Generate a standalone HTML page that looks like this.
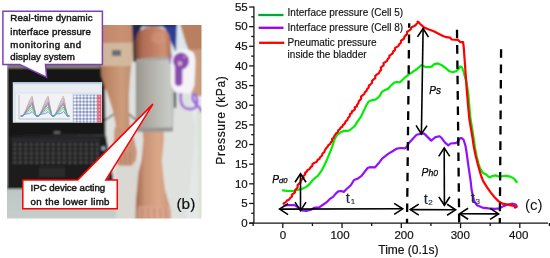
<!DOCTYPE html>
<html><head><meta charset="utf-8">
<style>
html,body{margin:0;padding:0;background:#fff;width:550px;height:258px;overflow:hidden}
svg{display:block}
.sans{font-family:"Liberation Sans",Arial,sans-serif}
</style></head><body>
<svg width="550" height="258" viewBox="0 0 550 258">
<defs>
<filter id="bl" x="-10%" y="-10%" width="120%" height="120%"><feGaussianBlur stdDeviation="0.9"/></filter>
<filter id="bl2" x="-10%" y="-10%" width="120%" height="120%"><feGaussianBlur stdDeviation="0.6"/></filter>
<clipPath id="photo"><rect x="7" y="25" width="194.5" height="193.5"/></clipPath>
<linearGradient id="floor" x1="0" y1="0" x2="0" y2="1"><stop offset="0" stop-color="#bcc6c3"/><stop offset="1" stop-color="#c8d0cd"/></linearGradient>
<linearGradient id="wall" x1="0" y1="0" x2="1" y2="0"><stop offset="0" stop-color="#dcdcd6"/><stop offset="1" stop-color="#e6ecee"/></linearGradient>
<linearGradient id="cuff" x1="0" y1="0" x2="1" y2="0"><stop offset="0" stop-color="#9a968e"/><stop offset="0.3" stop-color="#adaaa2"/><stop offset="0.65" stop-color="#bebeb9"/><stop offset="0.9" stop-color="#c9cbc7"/><stop offset="1" stop-color="#b2b4b0"/></linearGradient>
<linearGradient id="legL" x1="0" y1="0" x2="1" y2="0"><stop offset="0" stop-color="#a87452"/><stop offset="0.25" stop-color="#bf8866"/><stop offset="0.6" stop-color="#cc9c7c"/><stop offset="1" stop-color="#b8886a"/></linearGradient>
<linearGradient id="knee" x1="0" y1="0" x2="1" y2="0"><stop offset="0" stop-color="#7a4636"/><stop offset="0.18" stop-color="#b06c54"/><stop offset="0.5" stop-color="#c27e62"/><stop offset="0.8" stop-color="#cf9276"/><stop offset="1" stop-color="#a86c52"/></linearGradient>
<linearGradient id="skinR" x1="0" y1="0" x2="1" y2="0"><stop offset="0" stop-color="#a06448"/><stop offset="0.25" stop-color="#c89274"/><stop offset="0.65" stop-color="#dba888"/><stop offset="1" stop-color="#c8947a"/></linearGradient>
<pattern id="keys" x="12" y="142.3" width="5.5" height="4.5" patternUnits="userSpaceOnUse"><rect width="5.5" height="4.5" fill="#1e1e1e"/><rect x="0.6" y="0.5" width="4.3" height="3.5" fill="#2e2e2e"/><rect x="2" y="1.5" width="1.5" height="1.2" fill="#777"/></pattern>
<pattern id="grid" x="73.3" y="94.7" width="3.45" height="3.45" patternUnits="userSpaceOnUse"><rect width="3.45" height="3.45" fill="#7585b8"/><circle cx="1.72" cy="1.72" r="1.5" fill="#f8f8fb"/></pattern><pattern id="gridr" x="73.3" y="94.7" width="4" height="3.45" patternUnits="userSpaceOnUse"><rect width="4" height="3.45" fill="#e05060"/><circle cx="2" cy="1.72" r="1.2" fill="#f4a0b0"/></pattern>
</defs>

<!-- PHOTO -->
<g clip-path="url(#photo)">
 <g filter="url(#bl)">
  <rect x="0" y="20" width="210" height="205" fill="#dfe1df"/>
  <!-- right wall/back area -->
  <path d="M168,20 L210,20 L210,225 L186,225 L192,170 L196,130 L190,100 Z" fill="#e4e8e8"/>
  <path d="M197,110 L210,110 L210,225 L199,225 Z" fill="#dce2d4"/>
  <!-- floor under laptop -->
  <rect x="0" y="186" width="116" height="40" fill="url(#floor)"/>
  <rect x="116" y="160" width="22" height="66" fill="#d9d8d2"/>
  <!-- wall wedge top right -->
  <path d="M170,20 L182,20 L190,52 L172,56 Z" fill="#dce8ec"/>
  <!-- cables -->
  <path d="M104,121 L114,114 M129,114 L137,121" stroke="#333" stroke-width="1.2" fill="none"/>
  <!-- left leg -->
  <path d="M100,20 L135,20 L134.5,30 L133,50 L131.3,65 L129.8,80 L129,95 L129,110 L129.8,125 L131.5,133 L134.5,142 L136,152 L135,160 L131,165.5 L119,165.5 L115,161 L113.5,148 L114.5,133 L115.8,125 L112.7,110 L108,95 L101.9,80 L100.3,65 Z" fill="url(#legL)"/>
  <path d="M100,25 L135,25 L134,43 L100,44 Z" fill="#c88c70" opacity="0.7"/>
  <path d="M100,43 L134,42.5 L133,55 L131.5,66 L101,66 L100.2,55 Z" fill="#d4bea4" opacity="0.85"/>
  <rect x="112" y="50" width="9" height="6" fill="#6c6c74"/>
  <path d="M114.5,128 L131,128 L134.5,141 L137,152 L136,160 L132,165.5 L119,165.5 L115,161 L113.5,148 Z" fill="#c8957a"/>
  <path d="M120,152 L121,164 M125,153 L125.5,165 M130,152 L130,164" stroke="#a87058" stroke-width="0.9" fill="none"/>
  <!-- gap shadow -->
  <path d="M132.5,24 L137.5,24 L137,62 L133,62 Z" fill="#4a3a34"/>
  <!-- shorts -->
  <path d="M132,20 L148,20 L141,28 L136,40 L133,40 Z" fill="#1e2850"/>
  <path d="M157,20 L177,20 L176,52 L171,42 L166,30 Z" fill="#2c3c98"/>
  <rect x="132" y="20" width="45" height="6.5" fill="#232d5a"/>
  <!-- right knee -->
  <path d="M135.8,62 L135.8,40 C136,31 142,27 153,27 C164,27 169.5,31 170.4,40 L171.5,60 Z" fill="url(#knee)"/>
  <ellipse cx="158" cy="38" rx="7" ry="6" fill="#d49a80" opacity="0.45"/>
  <!-- arm -->
  <path d="M179,20 L210,20 L210,95 L198,95 L195,86 L196,62 L191,55 L186,44 Z" fill="#b88060"/>
  <path d="M190,50 L210,48 L210,96 L196,96 Z" fill="#c99a7c"/>
  <!-- lower right leg -->
  <path d="M142.4,128 L163.8,128 L163.8,140 L163,150 L161.8,160 L162.8,172 L165,190 L168,200 L170.7,210 L171,222 L135.5,222 L135.8,210 L136,200 L137,190 L138.5,172 L141.5,160 L142.5,150 L143.4,140 Z" fill="url(#skinR)"/>
  <path d="M138,206 L170,206 L171,219 L136,219 Z" fill="#dcaa92" opacity="0.6"/>
  <path d="M142,208 L142.5,218 M148,208 L148.5,218 M154,208 L154.5,218 M160,208 L160.5,218 M165.5,207 L166,217" stroke="#b07860" stroke-width="0.8" fill="none"/>
  <!-- cuff -->
  <path d="M136.5,59.5 Q154,56.5 173.5,57.5 L174,95 L173,131 L137,131.5 L136,95 Z" fill="url(#cuff)"/>
  <path d="M136.5,59.5 Q154,56.5 173.5,57.5 L173.5,60 Q154,59 136.5,62 Z" fill="#a4a4a2"/>
  <path d="M137,128 L173,127.5 L173,131.5 L137,132 Z" fill="#959593"/>
  <rect x="135.8" y="62" width="1.4" height="66" fill="#8a8a88"/>
  <!-- dark shadow by tube -->
  <rect x="174" y="92" width="2.2" height="16" fill="#4a4a4a"/>
  <!-- device -->
  <path d="M169.5,56 L174,54 L174,64 L169.5,63 Z" fill="#8a50b0"/>
  <rect x="171" y="49.5" width="25.5" height="44" rx="11" fill="#f5f3f8"/>
  <ellipse cx="181" cy="61" rx="8" ry="8.6" fill="#8a4cb0"/>
  <rect x="174.8" y="61" width="7.6" height="25" rx="3.7" fill="#8a4cb0"/>
  <circle cx="180" cy="63.5" r="2.2" fill="#dcb0c4"/>
  <circle cx="184.5" cy="57" r="1.3" fill="#c090d0"/>
  <!-- hand fingers -->
  <path d="M193.5,51 Q200,53 200,66 L199.5,86 Q198,94 191,94 L194.5,85 L195.5,60 Z" fill="#cc9c7e"/>
  <!-- tube -->
  <path d="M181,93 Q179,108 189,109 Q198,110 197,100 Q196,92 193,95 Q191,99 196,104 Q201,109 202,112" stroke="#9c62da" stroke-width="2.6" fill="none"/>
  <!-- laptop lid -->
  <path d="M7,63 L100.5,63.5 L101.5,76 L105,88 L105.5,135.5 L7,136 Z" fill="#141414"/>
  <rect x="7" y="64.4" width="93" height="3.6" fill="#8a897e"/>
  <!-- laptop base -->
  <path d="M7,135.5 L106,135.5 L113,178 L114,189 L7,189 Z" fill="#1c1c1c"/>
  <rect x="12" y="137.5" width="88" height="4.5" fill="#2c2c2e"/>
  <rect x="12" y="142.3" width="88" height="22.4" fill="url(#keys)"/>
  <rect x="38.5" y="167.5" width="26.5" height="9.8" fill="#2a2a2a"/>
  <rect x="101.5" y="146.5" width="4" height="3.5" fill="#8ab0c0"/>
  <rect x="104.5" y="174.5" width="4" height="3.5" fill="#7aa8b0"/>
  <rect x="54" y="131.5" width="6" height="2" fill="#777"/>
 </g>
 <!-- screen -->
 <g filter="url(#bl2)">
  <rect x="12.8" y="82.1" width="89.3" height="40.6" fill="#dfe6ee"/>
  <rect x="12.8" y="82.1" width="89.3" height="1.4" fill="#a8c0dc"/>
  <rect x="15" y="85" width="85" height="7" fill="#e9edf1"/>
  <rect x="16" y="93.5" width="56" height="28" fill="#f0f2f5"/>
  <path d="M19,95 L19,119 L70,119" stroke="#9aa0a8" stroke-width="0.6" fill="none"/>
  <g fill="none" stroke-width="0.85">
   <path d="M20.8,116 L22.8,116 C25.8,112 28.8,100 32.1,96 L36.0,116 L37.8,116 M36.8,116 L38.8,116 C41.8,112 44.8,100 48.099999999999994,96 L52.0,116 L53.8,116 M52.2,116 L54.2,116 C57.2,112 60.2,100 63.5,96 L67.4,116 L69.2,116" stroke="#b8b8c8"/>
   <path d="M20.8,116 L22.8,116 C25.8,112 28.8,102 32.1,98 L36.0,116 L37.8,116 M36.8,116 L38.8,116 C41.8,112 44.8,102 48.099999999999994,98 L52.0,116 L53.8,116 M52.2,116 L54.2,116 C57.2,112 60.2,102 63.5,98 L67.4,116 L69.2,116" stroke="#f090a8"/>
   <path d="M20.8,116 L22.8,116 C25.8,112 28.8,104 32.1,100 L36.0,116 L37.8,116 M36.8,116 L38.8,116 C41.8,112 44.8,104 48.099999999999994,100 L52.0,116 L53.8,116 M52.2,116 L54.2,116 C57.2,112 60.2,104 63.5,100 L67.4,116 L69.2,116" stroke="#f0b070"/>
   <path d="M20.8,116 L22.8,116 C25.8,112 28.8,105.5 32.1,101.5 L36.0,116 L37.8,116 M36.8,116 L38.8,116 C41.8,112 44.8,105.5 48.099999999999994,101.5 L52.0,116 L53.8,116 M52.2,116 L54.2,116 C57.2,112 60.2,105.5 63.5,101.5 L67.4,116 L69.2,116" stroke="#50c8e0"/>
   <path d="M20.8,116 L22.8,116 C25.8,112 28.8,107 32.1,103 L36.0,116 L37.8,116 M36.8,116 L38.8,116 C41.8,112 44.8,107 48.099999999999994,103 L52.0,116 L53.8,116 M52.2,116 L54.2,116 C57.2,112 60.2,107 63.5,103 L67.4,116 L69.2,116" stroke="#6090e8"/>
   <path d="M20.8,116 L22.8,116 C25.8,112 28.8,108.5 32.1,104.5 L36.0,116 L37.8,116 M36.8,116 L38.8,116 C41.8,112 44.8,108.5 48.099999999999994,104.5 L52.0,116 L53.8,116 M52.2,116 L54.2,116 C57.2,112 60.2,108.5 63.5,104.5 L67.4,116 L69.2,116" stroke="#f06070"/>
   <path d="M20.8,116 L22.8,116 C25.8,112 28.8,111 32.1,107 L36.0,116 L37.8,116 M36.8,116 L38.8,116 C41.8,112 44.8,111 48.099999999999994,107 L52.0,116 L53.8,116 M52.2,116 L54.2,116 C57.2,112 60.2,111 63.5,107 L67.4,116 L69.2,116" stroke="#40c070"/>
   <path d="M20.8,116 L22.8,116 C25.8,112 28.8,113 32.1,109 L36.0,116 L37.8,116 M36.8,116 L38.8,116 C41.8,112 44.8,113 48.099999999999994,109 L52.0,116 L53.8,116 M52.2,116 L54.2,116 C57.2,112 60.2,113 63.5,109 L67.4,116 L69.2,116" stroke="#80e0a0"/>
   <path d="M20.8,116 L22.8,116 C25.8,112 28.8,115.5 32.1,111.5 L36.0,116 L37.8,116 M36.8,116 L38.8,116 C41.8,112 44.8,115.5 48.099999999999994,111.5 L52.0,116 L53.8,116 M52.2,116 L54.2,116 C57.2,112 60.2,115.5 63.5,111.5 L67.4,116 L69.2,116" stroke="#4a80f0"/>
  </g>
  <rect x="73.3" y="94.7" width="24" height="28" fill="url(#grid)"/>
  <rect x="97.3" y="94.7" width="4" height="28" fill="url(#gridr)"/>
 </g>
</g>

<!-- callout 1 -->
<path d="M2.9,11.2 L102.4,11.2 L102.4,64.4 L45.5,64.4 L46.6,77.3 L19.7,64.4 L2.9,64.4 Z" fill="#fff" stroke="#8040b4" stroke-width="1.5"/>
<g font-size="9.7" fill="#1a1a1a" stroke="#1a1a1a" stroke-width="0.48" style="font-family:'Liberation Sans',Arial,sans-serif;white-space:pre">
 <text x="10.3" y="21.4" textLength="82.4" lengthAdjust="spacing">Real-time dynamic</text>
 <text x="10.3" y="34.8" textLength="80.6" lengthAdjust="spacing">interface pressure</text>
 <text x="10.3" y="48.2" textLength="70.8" lengthAdjust="spacing">monitoring  and</text>
 <text x="10.3" y="60.4" textLength="64.6" lengthAdjust="spacing">display system</text>
</g>

<!-- callout 2 -->
<path d="M22.8,179.9 L77.7,179.9 L152.9,104.1 L105.8,179.9 L117.3,179.9 L117.3,208.8 L22.8,208.8 Z" fill="#fff" stroke="#ff0000" stroke-width="1.5" stroke-linejoin="miter"/>
<g font-size="9.7" fill="#1a1a1a" stroke="#1a1a1a" stroke-width="0.48" style="font-family:'Liberation Sans',Arial,sans-serif;white-space:pre">
 <text x="30.6" y="191.2" textLength="74.6" lengthAdjust="spacing">IPC device acting</text>
 <text x="30.6" y="204.8" textLength="78.9" lengthAdjust="spacing">on the lower limb</text>
</g>
<text x="176.5" y="209.3" font-size="14.5" fill="#111" stroke="#111" stroke-width="0.2" textLength="18.8" lengthAdjust="spacingAndGlyphs" style="font-family:'Liberation Sans',Arial,sans-serif">(b)</text>

<!-- CHART -->
<g stroke="#151515" stroke-width="1.3" fill="none">
 <line x1="253.9" y1="6.5" x2="253.9" y2="223.1"/>
 <line x1="249.2" y1="223.1" x2="548" y2="223.1"/>
 <line x1="249.2" y1="223.10" x2="253.9" y2="223.10"/><line x1="251.2" y1="213.28" x2="253.9" y2="213.28"/><line x1="249.2" y1="203.45" x2="253.9" y2="203.45"/><line x1="251.2" y1="193.63" x2="253.9" y2="193.63"/><line x1="249.2" y1="183.81" x2="253.9" y2="183.81"/><line x1="251.2" y1="173.99" x2="253.9" y2="173.99"/><line x1="249.2" y1="164.16" x2="253.9" y2="164.16"/><line x1="251.2" y1="154.34" x2="253.9" y2="154.34"/><line x1="249.2" y1="144.52" x2="253.9" y2="144.52"/><line x1="251.2" y1="134.70" x2="253.9" y2="134.70"/><line x1="249.2" y1="124.88" x2="253.9" y2="124.88"/><line x1="251.2" y1="115.05" x2="253.9" y2="115.05"/><line x1="249.2" y1="105.23" x2="253.9" y2="105.23"/><line x1="251.2" y1="95.41" x2="253.9" y2="95.41"/><line x1="249.2" y1="85.59" x2="253.9" y2="85.59"/><line x1="251.2" y1="75.76" x2="253.9" y2="75.76"/><line x1="249.2" y1="65.94" x2="253.9" y2="65.94"/><line x1="251.2" y1="56.12" x2="253.9" y2="56.12"/><line x1="249.2" y1="46.30" x2="253.9" y2="46.30"/><line x1="251.2" y1="36.47" x2="253.9" y2="36.47"/><line x1="249.2" y1="26.65" x2="253.9" y2="26.65"/><line x1="251.2" y1="16.83" x2="253.9" y2="16.83"/><line x1="249.2" y1="7.00" x2="253.9" y2="7.00"/><line x1="253.18" y1="223.1" x2="253.18" y2="226.10"/><line x1="282.80" y1="223.1" x2="282.80" y2="228.10"/><line x1="312.43" y1="223.1" x2="312.43" y2="226.10"/><line x1="342.05" y1="223.1" x2="342.05" y2="228.10"/><line x1="371.68" y1="223.1" x2="371.68" y2="226.10"/><line x1="401.30" y1="223.1" x2="401.30" y2="228.10"/><line x1="430.93" y1="223.1" x2="430.93" y2="226.10"/><line x1="460.55" y1="223.1" x2="460.55" y2="228.10"/><line x1="490.18" y1="223.1" x2="490.18" y2="226.10"/><line x1="519.80" y1="223.1" x2="519.80" y2="228.10"/><line x1="549.42" y1="223.1" x2="549.42" y2="226.10"/>
</g>
<g font-size="11.5" fill="#111" stroke="#111" stroke-width="0.2" style="font-family:'Liberation Sans',Arial,sans-serif">
 <text x="247.7" y="226.80" text-anchor="end">0</text><text x="247.7" y="207.15" text-anchor="end">5</text><text x="247.7" y="187.51" text-anchor="end">10</text><text x="247.7" y="167.86" text-anchor="end">15</text><text x="247.7" y="148.22" text-anchor="end">20</text><text x="247.7" y="128.57" text-anchor="end">25</text><text x="247.7" y="108.93" text-anchor="end">30</text><text x="247.7" y="89.29" text-anchor="end">35</text><text x="247.7" y="69.64" text-anchor="end">40</text><text x="247.7" y="50.00" text-anchor="end">45</text><text x="247.7" y="30.35" text-anchor="end">50</text><text x="247.7" y="10.70" text-anchor="end">55</text>
 <text x="283.00" y="239.3" text-anchor="middle">0</text><text x="340.00" y="239.3" text-anchor="middle">100</text><text x="404.00" y="239.3" text-anchor="middle">200</text><text x="460.30" y="239.3" text-anchor="middle">300</text><text x="518.70" y="239.3" text-anchor="middle">400</text>
</g>
<text x="408.4" y="254" font-size="12" fill="#111" stroke="#111" stroke-width="0.2" text-anchor="middle" style="font-family:'Liberation Sans',Arial,sans-serif">Time (0.1s)</text>
<text transform="translate(225.3,120.4) rotate(-90)" font-size="12" fill="#111" stroke="#111" stroke-width="0.2" text-anchor="middle" textLength="88.5" style="font-family:'Liberation Sans',Arial,sans-serif">Pressure (kPa)</text>

<!-- legend -->
<g stroke-width="2.3">
 <line x1="258.3" y1="15.0" x2="283.5" y2="15.0" stroke="#00a83c"/>
 <line x1="258.6" y1="27.8" x2="283.5" y2="27.8" stroke="#9900ee"/>
 <line x1="259.1" y1="42.8" x2="284.3" y2="42.8" stroke="#ff0000"/>
</g>
<g font-size="10" fill="#111" stroke="#111" stroke-width="0.15" style="font-family:'Liberation Sans',Arial,sans-serif">
 <text x="287.6" y="16.3">Interface pressure (Cell 5)</text>
 <text x="287.6" y="30.9">Interface pressure (Cell 8)</text>
 <text x="287.6" y="45.7">Pneumatic pressure</text>
 <text x="287.6" y="58.3">inside the bladder</text>
</g>

<!-- curves -->
<g fill="none" stroke-linejoin="round" stroke-linecap="round">
 <polyline points="282.9,190.3 287.0,190.8 291.6,191.0 294.5,190.8 297.4,190.0 300.3,189.2 303.3,188.4 306.7,186.6 310.0,183.7 312.8,180.0 318.0,175.6 322.1,169.8 325.6,162.8 328.5,155.8 330.0,152.3 332.0,147.1 334.3,140.1 336.6,135.5 340.1,132.6 344.2,130.8 348.0,130.8 350.1,130.0 353.0,127.5 355.1,125.5 357.1,122.1 361.2,116.3 365.0,108.1 366.5,105.0 368.5,101.8 370.6,100.6 375.8,99.4 379.3,96.5 382.0,91.9 385.0,90.0 387.9,88.9 391.0,85.5 394.2,82.6 397.0,82.0 400.0,82.3 404.7,77.7 409.3,74.2 412.8,71.9 416.3,69.5 419.2,67.2 421.5,65.2 423.3,66.0 426.2,67.2 428.0,67.2 431.5,66.6 434.4,64.1 437.9,63.4 441.4,64.9 445.4,67.8 449.5,71.3 453.0,72.2 455.9,71.3 458.0,69.5 460.2,66.5 462.0,67.3 463.7,72.0 464.9,76.6 466.6,82.4 467.8,90.6 468.4,95.0 469.4,107.0 470.4,118.0 471.9,127.3 473.6,137.8 475.0,148.0 476.9,157.4 478.5,163.5 480.0,168.3 483.0,172.9 486.2,174.5 489.3,177.4 492.4,176.0 495.5,175.4 499.3,176.8 503.2,176.0 505.7,175.8 510.4,176.6 514.3,178.9 516.6,182.0" stroke="#00ee00" stroke-width="2.2"/>
 <polyline points="284.4,205.5 288.8,205.1 294.6,205.1 298.1,207.4 301.6,210.3 306.3,210.9 310.9,209.8 314.5,207.7 319.1,207.3 322.6,205.0 326.1,202.7 329.6,199.2 333.1,196.9 336.0,193.4 338.3,191.4 341.0,191.0 344.0,191.9 346.0,189.5 348.6,187.2 351.0,185.0 354.0,180.0 357.4,178.8 361.5,175.9 365.0,171.3 367.9,167.8 370.0,167.2 375.1,167.3 378.6,163.3 382.1,158.6 385.0,156.3 388.5,153.6 392.5,151.3 396.6,148.7 401.3,148.0 404.7,148.4 407.1,146.6 408.5,143.5 412.6,138.9 416.6,134.8 421.3,133.6 424.2,133.6 427.7,137.1 431.2,140.6 432.0,140.0 435.5,137.1 439.6,136.2 441.9,138.3 444.8,142.3 448.3,145.3 450.6,143.5 455.3,143.2 458.2,141.8 459.3,138.9 461.1,138.0 462.0,138.3 463.7,140.0 465.5,146.0 466.3,150.5 468.3,165.2 470.7,181.4 471.6,190.0 473.9,200.6 477.0,205.3 482.4,207.6 488.6,208.4 494.8,208.9 499.5,208.4 503.4,206.1 508.0,204.5 512.7,203.7 515.8,204.5 516.6,206.0" stroke="#9010ff" stroke-width="2.2"/>
 <polyline points="283.5,203.5 285.5,202.4 287.0,200.6 289.1,199.6 290.5,197.7 291.9,196.6 291.9,194.6 293.4,193.6 294.9,192.4 295.0,190.3 296.3,189.0 297.6,187.4 297.6,185.1 299.2,183.7 300.5,182.4 300.8,180.4 302.1,179.1 303.6,177.8 303.2,175.7 305.1,174.6 305.2,172.7 306.8,171.7 307.5,170.0 309.4,169.2 310.5,167.4 312.1,166.1 312.7,163.9 314.5,162.8 316.5,161.9 317.5,160.0 319.3,158.9 320.3,157.0 322.0,155.6 322.5,153.5 324.3,152.1 325.0,150.0 326.1,148.3 327.6,146.9 328.5,145.0 330.1,144.1 330.8,142.4 332.2,141.1 332.1,139.0 333.7,137.8 334.3,136.0 336.0,133.5 337.7,132.3 338.3,130.2 339.8,129.4 340.5,127.8 342.2,126.8 343.0,125.0 344.8,123.7 345.5,121.5 347.3,120.1 348.0,118.0 349.7,116.3 350.1,114.0 351.6,113.2 352.0,111.2 353.6,110.5 354.9,109.3 354.7,107.2 356.8,106.5 357.1,104.7 358.4,103.3 358.7,101.4 360.0,100.0 361.2,98.6 361.0,96.5 362.5,95.3 364.2,94.0 365.0,92.0 366.5,90.8 367.1,89.0 368.6,87.7 369.0,85.5 370.6,84.3 372.0,83.0 372.1,80.8 373.5,79.5 375.2,78.1 375.3,75.8 377.0,74.4 379.0,73.1 379.9,70.9 381.2,69.6 380.8,67.5 382.2,66.3 383.7,65.3 383.5,63.1 385.1,62.2 387.0,60.8 388.0,58.7 389.3,57.6 389.4,55.6 390.9,54.7 392.7,53.4 393.3,51.2 394.9,50.3 394.9,48.1 396.4,47.1 398.3,46.1 399.3,44.2 400.8,42.9 401.1,40.7 402.8,39.5 404.2,38.5 404.4,36.5 405.7,35.4 407.0,34.1 407.0,32.0 408.6,30.8 410.6,29.5 411.5,27.3 414.4,26.1 416.2,24.4 417.3,23.1 417.7,21.5 419.1,22.7 420.0,23.8 424.0,27.4 429.0,29.5 433.8,31.3 439.0,34.0 443.0,36.0 446.5,37.2 450.0,37.6 451.7,39.5 458.1,39.9 460.2,42.1 463.1,42.1 463.7,47.0 464.3,55.1 464.9,63.3 465.5,72.0 466.0,79.0 466.6,88.3 467.2,95.0 468.2,107.0 469.2,118.0 470.7,127.3 472.5,137.8 473.6,145.5 475.3,154.3 477.6,163.6 480.0,172.1 481.5,177.0 483.2,181.2 487.1,187.4 491.0,192.9 494.8,197.5 498.7,201.4 502.6,203.7 507.3,204.5 511.1,205.3 514.3,206.0 515.2,207.6 516.6,206.8" stroke="#ff0000" stroke-width="2.2"/>
</g>

<!-- dashed lines -->
<g stroke="#000" stroke-width="2.3" stroke-dasharray="8.6 6.75" fill="none">
 <line x1="409.2" y1="23.3" x2="407" y2="223" stroke-dashoffset="4.1"/>
 <line x1="457" y1="29.7" x2="459.2" y2="223"/>
 <line x1="501.1" y1="49.2" x2="499.8" y2="223"/>
</g>
<!-- arrows -->
<g stroke="#000" stroke-width="1.6" fill="none" stroke-linecap="butt" stroke-linejoin="miter">
 <line x1="300.5" y1="173.8" x2="300.5" y2="210.6"/><polyline points="295.00,182.30 300.50,173.80 306.00,182.30"/><polyline points="306.00,202.10 300.50,210.60 295.00,202.10"/><line x1="279.6" y1="209.1" x2="402.7" y2="208.8"/><polyline points="288.11,214.58 279.60,209.10 288.09,203.58"/><polyline points="394.19,203.32 402.70,208.80 394.21,214.32"/><line x1="423.1" y1="28.5" x2="421.4" y2="134.0"/><polyline points="417.46,36.91 423.10,28.50 428.46,37.09"/><polyline points="427.04,125.59 421.40,134.00 416.04,125.41"/><line x1="444.2" y1="147.9" x2="444.4" y2="205.3"/><polyline points="438.73,156.42 444.20,147.90 449.73,156.38"/><polyline points="449.87,196.78 444.40,205.30 438.87,196.82"/><line x1="410.3" y1="209.6" x2="455.6" y2="209.8"/><polyline points="418.78,215.14 410.30,209.60 418.82,204.14"/><polyline points="447.12,204.26 455.60,209.80 447.08,215.26"/><line x1="459.6" y1="213.7" x2="498.6" y2="213.9"/><polyline points="468.07,219.24 459.60,213.70 468.13,208.24"/><polyline points="490.13,208.36 498.60,213.90 490.07,219.36"/>
</g>

<!-- annotations -->
<g fill="#000" stroke="#000" stroke-width="0.25" style="font-family:'Liberation Sans',Arial,sans-serif" font-style="italic">
 <text x="272.2" y="182.9" font-size="10.2">P<tspan font-size="7.6" dy="0.3">d0</tspan></text>
 <text x="429.3" y="93.6" font-size="10">Ps</text>
 <text x="421.6" y="176.3" font-size="10.3">P<tspan font-size="8.6">h0</tspan></text>
</g>
<g fill="#1d2a40" stroke="#1d2a40" stroke-width="0.15" style="font-family:'Liberation Sans',Arial,sans-serif">
 <text x="345.7" y="203" font-size="15">t<tspan font-size="8" dx="0.8" dy="0.8">1</tspan></text>
 <text x="423.7" y="204.2" font-size="15">t<tspan font-size="8" dx="0.5" dy="0.8">2</tspan></text>
 <text x="470.8" y="203" font-size="15">t<tspan font-size="8" dx="0.5" dy="0.8">3</tspan></text>
</g>
<text x="525" y="209.6" font-size="14" fill="#111" textLength="17.6" lengthAdjust="spacingAndGlyphs" style="font-family:'Liberation Sans',Arial,sans-serif">(c)</text>
</svg>
</body></html>
